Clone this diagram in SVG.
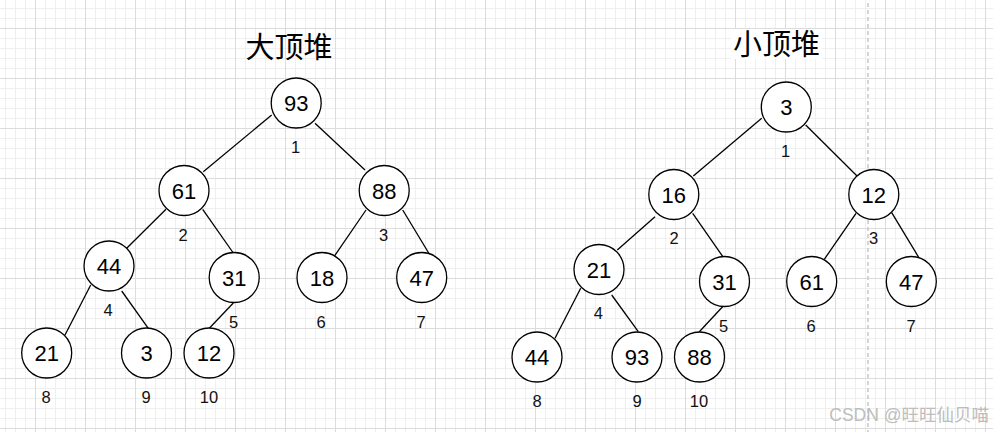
<svg xmlns="http://www.w3.org/2000/svg" width="993" height="432" viewBox="0 0 993 432">
<defs>
<pattern id="grid" x="35" y="28" width="50" height="50" patternUnits="userSpaceOnUse">
<rect x="10" y="0" width="1" height="50" fill="#efefef"/>
<rect x="20" y="0" width="1" height="50" fill="#efefef"/>
<rect x="30" y="0" width="1" height="50" fill="#efefef"/>
<rect x="40" y="0" width="1" height="50" fill="#efefef"/>
<rect x="0" y="10" width="50" height="1" fill="#efefef"/>
<rect x="0" y="20" width="50" height="1" fill="#efefef"/>
<rect x="0" y="30" width="50" height="1" fill="#efefef"/>
<rect x="0" y="40" width="50" height="1" fill="#efefef"/>
<rect x="0" y="0" width="1" height="50" fill="#dcdcdc"/>
<rect x="0" y="0" width="50" height="1" fill="#dcdcdc"/>
</pattern>
</defs>
<style>
.n circle{fill:#fff;stroke:#000;stroke-width:1.3}
.n text{font-family:"Liberation Sans",Arial,sans-serif;font-size:22px;text-anchor:middle;fill:#000}
.lbl{font-family:"Liberation Sans",Arial,sans-serif;font-size:16.5px;text-anchor:middle;fill:#111}
.edges line{stroke:#000;stroke-width:1.3}
.title{font-family:"Noto Sans CJK SC","Noto Sans",sans-serif;font-size:29px;text-anchor:middle;fill:#000}
</style>
<rect width="993" height="432" fill="#fff"/>
<rect width="993" height="432" fill="url(#grid)"/>
<line x1="868" y1="3" x2="868" y2="432" stroke="#c8c8c8" stroke-width="1.5" stroke-dasharray="4 3"/>

<text class="title" x="289" y="58">大顶堆</text>
<rect x="731" y="29" width="91" height="30" fill="#fff"/>
<text class="title" x="776.5" y="55">小顶堆</text>

<g id="connectors" class="edges">
<line x1="271.7" y1="115" x2="203.3" y2="171.7"/>
<line x1="315" y1="123.3" x2="365" y2="170"/>
<line x1="166" y1="209.3" x2="126.7" y2="248.3"/>
<line x1="202.7" y1="209.3" x2="234" y2="254"/>
<line x1="366" y1="210" x2="334" y2="256.7"/>
<line x1="402.7" y1="210" x2="429.3" y2="254"/>
<line x1="90.7" y1="285" x2="65" y2="335"/>
<line x1="121.7" y1="291" x2="148.3" y2="328.3"/>
<line x1="233.3" y1="303" x2="209.3" y2="328.3"/>
<line x1="761.7" y1="118.3" x2="693.3" y2="176"/>
<line x1="805.7" y1="125" x2="858.3" y2="177.3"/>
<line x1="655" y1="216.7" x2="617.3" y2="250"/>
<line x1="692.7" y1="213.3" x2="723.3" y2="257.3"/>
<line x1="856" y1="213.3" x2="824.3" y2="259.3"/>
<line x1="891.7" y1="212.7" x2="919.3" y2="258.3"/>
<line x1="580.7" y1="288.3" x2="555" y2="338.3"/>
<line x1="611.7" y1="295" x2="638.3" y2="331.7"/>
<line x1="723.3" y1="306" x2="699.3" y2="331.7"/>
</g>

<g id="max93" class="n"><circle cx="296.2" cy="103" r="25"/><text x="296.2" y="111">93</text></g>
<g id="max61" class="n"><circle cx="184" cy="190.5" r="25"/><text x="184" y="198.5">61</text></g>
<g id="max88" class="n"><circle cx="384.2" cy="190.5" r="25"/><text x="384.2" y="198.5">88</text></g>
<g id="max44" class="n"><circle cx="109" cy="266" r="25"/><text x="109" y="274">44</text></g>
<g id="max31" class="n"><circle cx="234.2" cy="277.5" r="25"/><text x="234.2" y="285.5">31</text></g>
<g id="max18" class="n"><circle cx="322" cy="277.5" r="25"/><text x="322" y="285.5">18</text></g>
<g id="max47" class="n"><circle cx="421.7" cy="277.5" r="25"/><text x="421.7" y="285.5">47</text></g>
<g id="max21" class="n"><circle cx="46.7" cy="353" r="25"/><text x="46.7" y="361">21</text></g>
<g id="max3" class="n"><circle cx="146.5" cy="353" r="25"/><text x="146.5" y="361">3</text></g>
<g id="max12" class="n"><circle cx="209" cy="353" r="25"/><text x="209" y="361">12</text></g>

<g id="min3" class="n"><circle cx="786.3" cy="107" r="25"/><text x="786.3" y="115">3</text></g>
<g id="min16" class="n"><circle cx="673.8" cy="194.5" r="25"/><text x="673.8" y="202.5">16</text></g>
<g id="min12" class="n"><circle cx="873.8" cy="194.5" r="25"/><text x="873.8" y="202.5">12</text></g>
<g id="min21" class="n"><circle cx="599" cy="269.5" r="25"/><text x="599" y="277.5">21</text></g>
<g id="min31" class="n"><circle cx="724.5" cy="281.5" r="25"/><text x="724.5" y="289.5">31</text></g>
<g id="min61" class="n"><circle cx="811.7" cy="281.5" r="25"/><text x="811.7" y="289.5">61</text></g>
<g id="min47" class="n"><circle cx="911.3" cy="281.5" r="25"/><text x="911.3" y="289.5">47</text></g>
<g id="min44" class="n"><circle cx="537" cy="357" r="25"/><text x="537" y="365">44</text></g>
<g id="min93" class="n"><circle cx="637" cy="357" r="25"/><text x="637" y="365">93</text></g>
<g id="min88" class="n"><circle cx="699.5" cy="357" r="25"/><text x="699.5" y="365">88</text></g>

<g id="labels-max">
<text class="lbl" x="295.7" y="152.7">1</text>
<text class="lbl" x="183" y="241">2</text>
<text class="lbl" x="383.5" y="241">3</text>
<text class="lbl" x="108" y="316">4</text>
<text class="lbl" x="233.5" y="328">5</text>
<text class="lbl" x="321" y="328">6</text>
<text class="lbl" x="421" y="328">7</text>
<text class="lbl" x="46" y="403">8</text>
<text class="lbl" x="146" y="403">9</text>
<text class="lbl" x="209" y="403">10</text>
</g>
<g id="labels-min">
<text class="lbl" x="785.7" y="157">1</text>
<text class="lbl" x="674" y="244">2</text>
<text class="lbl" x="873.5" y="244">3</text>
<text class="lbl" x="598.3" y="319">4</text>
<text class="lbl" x="723.5" y="332">5</text>
<text class="lbl" x="811" y="332">6</text>
<text class="lbl" x="911" y="332">7</text>
<text class="lbl" x="537" y="407">8</text>
<text class="lbl" x="637" y="407">9</text>
<text class="lbl" x="699" y="407">10</text>
</g>

<text x="989" y="421" text-anchor="end" font-family="'Liberation Sans','Noto Sans CJK SC',sans-serif" font-size="17.5" fill="#bdbdbd">CSDN @旺旺仙贝喵</text>
</svg>
